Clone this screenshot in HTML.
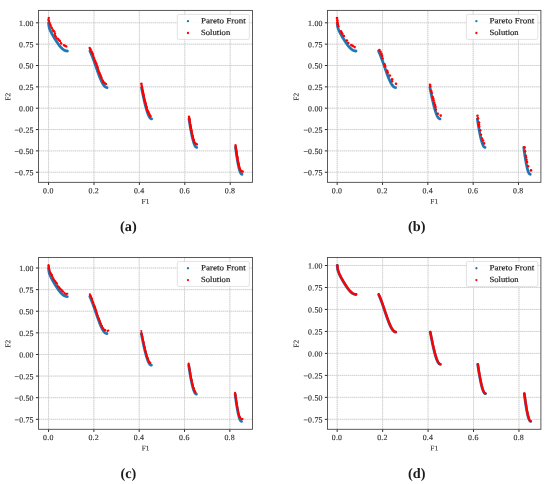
<!DOCTYPE html>
<html lang="en"><head><meta charset="utf-8"><title>Pareto Front vs Solution</title>
<style>
html,body{margin:0;padding:0;background:#fff;}
body{width:550px;height:484px;overflow:hidden;font-family:"Liberation Serif",serif;}
svg{display:block;}
</style></head><body>
<svg width="550" height="484" viewBox="0 0 550 484">
<rect width="550" height="484" fill="#fff"/>
<g id="plot-a">
<path d="M48.55 11V182.35M93.97 11V182.35M139.39 11V182.35M184.81 11V182.35M230.23 11V182.35M39 22.80H252.45M39 44.15H252.45M39 65.50H252.45M39 86.85H252.45M39 108.20H252.45M39 129.55H252.45M39 150.90H252.45M39 172.25H252.45" stroke="#e2e2e2" stroke-width="0.9" fill="none"/>
<path d="M48.55 11V182.35M93.97 11V182.35M139.39 11V182.35M184.81 11V182.35M230.23 11V182.35M39 22.80H252.45M39 44.15H252.45M39 65.50H252.45M39 86.85H252.45M39 108.20H252.45M39 129.55H252.45M39 150.90H252.45M39 172.25H252.45" stroke="#c4c4c4" stroke-width="0.55" stroke-dasharray="1 1" fill="none"/>
<polyline points="48.55,22.80 49.03,26.75 49.52,28.42 50.00,29.73 50.48,30.87 50.97,31.91 51.45,32.88 51.93,33.80 52.42,34.68 52.90,35.55 53.38,36.39 53.87,37.21 54.35,38.02 54.83,38.81 55.32,39.59 55.80,40.36 56.28,41.11 56.77,41.85 57.25,42.57 57.73,43.27 58.22,43.96 58.70,44.62 59.18,45.26 59.67,45.87 60.15,46.46 60.63,47.02 61.12,47.55 61.60,48.04 62.08,48.51 62.57,48.93 63.05,49.32 63.53,49.68 64.02,49.99 64.50,50.26 64.98,50.49 65.47,50.68 65.95,50.82 66.43,50.93 66.92,50.99 67.40,51.01" fill="none" stroke="#1f77b4" stroke-width="2.8" stroke-linecap="round" stroke-linejoin="round"/>
<polyline points="89.93,51.01 90.37,51.94 90.81,52.92 91.25,53.94 91.69,55.00 92.13,56.09 92.57,57.22 93.01,58.38 93.45,59.57 93.89,60.78 94.33,62.01 94.77,63.25 95.21,64.51 95.65,65.78 96.09,67.05 96.53,68.32 96.97,69.58 97.41,70.83 97.85,72.07 98.29,73.29 98.73,74.49 99.17,75.66 99.61,76.80 100.05,77.90 100.49,78.97 100.93,79.98 101.37,80.95 101.81,81.86 102.25,82.72 102.69,83.52 103.13,84.25 103.57,84.92 104.01,85.51 104.45,86.04 104.89,86.48 105.33,86.85 105.77,87.14 106.21,87.35 106.65,87.48 107.09,87.52" fill="none" stroke="#1f77b4" stroke-width="2.8" stroke-linecap="round" stroke-linejoin="round"/>
<polyline points="141.51,87.52 141.76,88.82 142.02,90.12 142.28,91.40 142.54,92.67 142.80,93.94 143.06,95.18 143.32,96.41 143.58,97.62 143.84,98.81 144.10,99.99 144.36,101.13 144.62,102.26 144.88,103.36 145.14,104.43 145.40,105.47 145.66,106.48 145.92,107.47 146.18,108.41 146.44,109.33 146.70,110.21 146.96,111.05 147.21,111.86 147.47,112.62 147.73,113.35 147.99,114.03 148.25,114.67 148.51,115.27 148.77,115.83 149.03,116.33 149.29,116.80 149.55,117.22 149.81,117.59 150.07,117.91 150.33,118.18 150.59,118.41 150.85,118.58 151.11,118.71 151.37,118.78 151.63,118.81" fill="none" stroke="#1f77b4" stroke-width="2.8" stroke-linecap="round" stroke-linejoin="round"/>
<polyline points="188.99,118.81 189.19,120.10 189.39,121.38 189.58,122.63 189.78,123.87 189.98,125.08 190.18,126.26 190.38,127.43 190.58,128.57 190.78,129.68 190.97,130.76 191.17,131.82 191.37,132.85 191.57,133.85 191.77,134.82 191.97,135.76 192.17,136.67 192.37,137.54 192.56,138.38 192.76,139.19 192.96,139.96 193.16,140.69 193.36,141.40 193.56,142.06 193.76,142.69 193.95,143.28 194.15,143.83 194.35,144.34 194.55,144.81 194.75,145.25 194.95,145.64 195.15,145.99 195.34,146.31 195.54,146.58 195.74,146.81 195.94,147.00 196.14,147.15 196.34,147.25 196.54,147.31 196.74,147.34" fill="none" stroke="#1f77b4" stroke-width="2.8" stroke-linecap="round" stroke-linejoin="round"/>
<polyline points="235.53,147.34 235.69,148.60 235.86,149.84 236.03,151.06 236.19,152.25 236.36,153.42 236.52,154.56 236.69,155.67 236.86,156.76 237.02,157.82 237.19,158.85 237.35,159.85 237.52,160.82 237.69,161.76 237.85,162.67 238.02,163.55 238.18,164.40 238.35,165.22 238.52,166.00 238.68,166.75 238.85,167.47 239.01,168.15 239.18,168.80 239.35,169.41 239.51,169.99 239.68,170.53 239.84,171.04 240.01,171.51 240.18,171.94 240.34,172.34 240.51,172.70 240.67,173.02 240.84,173.31 241.01,173.56 241.17,173.77 241.34,173.94 241.50,174.07 241.67,174.17 241.84,174.23 242.00,174.25" fill="none" stroke="#1f77b4" stroke-width="2.8" stroke-linecap="round" stroke-linejoin="round"/>
<g fill="#ff0000"><circle cx="48.82" cy="17.85" r="1.15"/><circle cx="48.54" cy="19.27" r="1.15"/><circle cx="48.46" cy="20.41" r="1.15"/><circle cx="49.03" cy="21.19" r="1.15"/><circle cx="49.64" cy="22.88" r="1.15"/><circle cx="49.70" cy="23.87" r="1.15"/><circle cx="50.37" cy="25.01" r="1.15"/><circle cx="50.72" cy="25.87" r="1.15"/><circle cx="51.43" cy="27.33" r="1.15"/><circle cx="51.89" cy="28.09" r="1.15"/><circle cx="52.76" cy="29.55" r="1.15"/><circle cx="53.13" cy="30.89" r="1.15"/><circle cx="54.01" cy="31.05" r="1.15"/><circle cx="54.47" cy="31.94" r="1.15"/><circle cx="55.09" cy="33.55" r="1.15"/><circle cx="55.00" cy="35.07" r="1.15"/><circle cx="55.37" cy="36.05" r="1.15"/><circle cx="55.93" cy="36.83" r="1.15"/><circle cx="56.82" cy="38.31" r="1.15"/><circle cx="58.17" cy="38.94" r="1.15"/><circle cx="58.71" cy="39.96" r="1.15"/><circle cx="59.51" cy="40.69" r="1.15"/><circle cx="60.01" cy="41.19" r="1.15"/><circle cx="60.95" cy="43.17" r="1.15"/><circle cx="61.31" cy="43.71" r="1.15"/><circle cx="63.83" cy="45.08" r="1.15"/><circle cx="64.53" cy="45.66" r="1.15"/><circle cx="65.61" cy="46.02" r="1.15"/><circle cx="66.48" cy="46.61" r="1.15"/><circle cx="89.59" cy="47.98" r="1.15"/><circle cx="90.16" cy="48.74" r="1.15"/><circle cx="90.35" cy="49.55" r="1.15"/><circle cx="90.53" cy="49.33" r="1.15"/><circle cx="91.13" cy="51.14" r="1.15"/><circle cx="91.71" cy="51.73" r="1.15"/><circle cx="91.81" cy="52.64" r="1.15"/><circle cx="92.10" cy="53.08" r="1.15"/><circle cx="92.40" cy="53.44" r="1.15"/><circle cx="92.75" cy="53.91" r="1.15"/><circle cx="93.16" cy="55.08" r="1.15"/><circle cx="93.39" cy="56.32" r="1.15"/><circle cx="94.00" cy="57.78" r="1.15"/><circle cx="94.12" cy="58.24" r="1.15"/><circle cx="94.47" cy="59.54" r="1.15"/><circle cx="94.92" cy="60.93" r="1.15"/><circle cx="95.23" cy="60.93" r="1.15"/><circle cx="95.36" cy="61.93" r="1.15"/><circle cx="95.72" cy="62.85" r="1.15"/><circle cx="96.06" cy="63.08" r="1.15"/><circle cx="96.27" cy="63.70" r="1.15"/><circle cx="96.41" cy="64.09" r="1.15"/><circle cx="96.97" cy="65.33" r="1.15"/><circle cx="97.30" cy="66.54" r="1.15"/><circle cx="97.56" cy="67.50" r="1.15"/><circle cx="97.73" cy="67.90" r="1.15"/><circle cx="98.12" cy="69.46" r="1.15"/><circle cx="98.39" cy="70.62" r="1.15"/><circle cx="98.75" cy="71.51" r="1.15"/><circle cx="99.25" cy="72.74" r="1.15"/><circle cx="99.62" cy="73.23" r="1.15"/><circle cx="99.86" cy="74.14" r="1.15"/><circle cx="100.19" cy="75.08" r="1.15"/><circle cx="100.57" cy="75.30" r="1.15"/><circle cx="100.85" cy="76.46" r="1.15"/><circle cx="101.22" cy="77.62" r="1.15"/><circle cx="101.53" cy="77.69" r="1.15"/><circle cx="102.03" cy="79.32" r="1.15"/><circle cx="102.83" cy="80.66" r="1.15"/><circle cx="103.08" cy="81.43" r="1.15"/><circle cx="103.38" cy="82.07" r="1.15"/><circle cx="103.89" cy="82.74" r="1.15"/><circle cx="104.40" cy="82.99" r="1.15"/><circle cx="105.36" cy="83.56" r="1.15"/><circle cx="106.06" cy="84.03" r="1.15"/><circle cx="141.38" cy="84.11" r="1.15"/><circle cx="141.43" cy="83.74" r="1.15"/><circle cx="141.64" cy="85.45" r="1.15"/><circle cx="141.81" cy="86.46" r="1.15"/><circle cx="141.96" cy="87.16" r="1.15"/><circle cx="142.11" cy="87.78" r="1.15"/><circle cx="142.12" cy="88.00" r="1.15"/><circle cx="142.35" cy="89.17" r="1.15"/><circle cx="142.50" cy="90.28" r="1.15"/><circle cx="142.63" cy="90.83" r="1.15"/><circle cx="142.68" cy="91.27" r="1.15"/><circle cx="142.88" cy="91.96" r="1.15"/><circle cx="143.06" cy="92.53" r="1.15"/><circle cx="143.08" cy="92.83" r="1.15"/><circle cx="143.30" cy="93.59" r="1.15"/><circle cx="143.47" cy="94.62" r="1.15"/><circle cx="143.52" cy="94.88" r="1.15"/><circle cx="143.73" cy="95.76" r="1.15"/><circle cx="143.79" cy="96.14" r="1.15"/><circle cx="143.95" cy="96.80" r="1.15"/><circle cx="144.09" cy="97.67" r="1.15"/><circle cx="144.29" cy="98.33" r="1.15"/><circle cx="144.43" cy="99.44" r="1.15"/><circle cx="144.64" cy="100.34" r="1.15"/><circle cx="144.69" cy="100.75" r="1.15"/><circle cx="144.89" cy="101.25" r="1.15"/><circle cx="145.11" cy="101.85" r="1.15"/><circle cx="145.25" cy="102.65" r="1.15"/><circle cx="145.31" cy="102.68" r="1.15"/><circle cx="145.59" cy="103.47" r="1.15"/><circle cx="145.69" cy="104.05" r="1.15"/><circle cx="145.91" cy="105.01" r="1.15"/><circle cx="146.08" cy="105.36" r="1.15"/><circle cx="146.32" cy="106.56" r="1.15"/><circle cx="146.44" cy="106.97" r="1.15"/><circle cx="146.50" cy="107.04" r="1.15"/><circle cx="146.73" cy="107.92" r="1.15"/><circle cx="147.07" cy="109.47" r="1.15"/><circle cx="147.21" cy="109.94" r="1.15"/><circle cx="147.53" cy="110.62" r="1.15"/><circle cx="147.69" cy="111.10" r="1.15"/><circle cx="147.85" cy="111.85" r="1.15"/><circle cx="148.25" cy="111.96" r="1.15"/><circle cx="148.35" cy="112.43" r="1.15"/><circle cx="148.50" cy="112.57" r="1.15"/><circle cx="149.11" cy="114.19" r="1.15"/><circle cx="149.23" cy="113.85" r="1.15"/><circle cx="149.79" cy="115.25" r="1.15"/><circle cx="150.27" cy="115.82" r="1.15"/><circle cx="150.61" cy="116.50" r="1.15"/><circle cx="188.99" cy="116.61" r="1.15"/><circle cx="189.11" cy="117.28" r="1.15"/><circle cx="189.21" cy="117.79" r="1.15"/><circle cx="189.35" cy="118.95" r="1.15"/><circle cx="189.41" cy="119.00" r="1.15"/><circle cx="189.50" cy="119.85" r="1.15"/><circle cx="189.65" cy="120.52" r="1.15"/><circle cx="189.79" cy="121.39" r="1.15"/><circle cx="189.93" cy="122.49" r="1.15"/><circle cx="190.03" cy="122.86" r="1.15"/><circle cx="190.04" cy="122.85" r="1.15"/><circle cx="190.25" cy="124.42" r="1.15"/><circle cx="190.41" cy="125.47" r="1.15"/><circle cx="190.48" cy="125.62" r="1.15"/><circle cx="190.57" cy="126.58" r="1.15"/><circle cx="190.73" cy="127.43" r="1.15"/><circle cx="190.83" cy="127.73" r="1.15"/><circle cx="191.01" cy="128.66" r="1.15"/><circle cx="191.11" cy="128.76" r="1.15"/><circle cx="191.31" cy="129.96" r="1.15"/><circle cx="191.40" cy="130.68" r="1.15"/><circle cx="191.48" cy="131.10" r="1.15"/><circle cx="191.69" cy="131.72" r="1.15"/><circle cx="191.85" cy="133.13" r="1.15"/><circle cx="191.92" cy="133.52" r="1.15"/><circle cx="192.08" cy="134.08" r="1.15"/><circle cx="192.14" cy="134.26" r="1.15"/><circle cx="192.47" cy="135.60" r="1.15"/><circle cx="192.55" cy="136.07" r="1.15"/><circle cx="192.63" cy="136.40" r="1.15"/><circle cx="192.83" cy="136.84" r="1.15"/><circle cx="193.10" cy="138.02" r="1.15"/><circle cx="193.36" cy="139.30" r="1.15"/><circle cx="193.51" cy="139.42" r="1.15"/><circle cx="193.76" cy="140.40" r="1.15"/><circle cx="193.87" cy="140.90" r="1.15"/><circle cx="194.08" cy="141.55" r="1.15"/><circle cx="194.55" cy="142.55" r="1.15"/><circle cx="194.93" cy="143.13" r="1.15"/><circle cx="195.44" cy="143.60" r="1.15"/><circle cx="196.32" cy="144.00" r="1.15"/><circle cx="196.96" cy="144.44" r="1.15"/><circle cx="235.53" cy="145.23" r="1.15"/><circle cx="235.61" cy="146.03" r="1.15"/><circle cx="235.76" cy="147.12" r="1.15"/><circle cx="235.76" cy="147.22" r="1.15"/><circle cx="235.84" cy="148.05" r="1.15"/><circle cx="235.95" cy="148.56" r="1.15"/><circle cx="236.03" cy="148.84" r="1.15"/><circle cx="236.14" cy="149.59" r="1.15"/><circle cx="236.26" cy="150.41" r="1.15"/><circle cx="236.37" cy="151.29" r="1.15"/><circle cx="236.49" cy="152.22" r="1.15"/><circle cx="236.51" cy="152.26" r="1.15"/><circle cx="236.72" cy="154.06" r="1.15"/><circle cx="236.80" cy="154.50" r="1.15"/><circle cx="236.83" cy="154.85" r="1.15"/><circle cx="236.86" cy="154.66" r="1.15"/><circle cx="237.04" cy="155.85" r="1.15"/><circle cx="237.15" cy="156.39" r="1.15"/><circle cx="237.17" cy="156.35" r="1.15"/><circle cx="237.37" cy="157.51" r="1.15"/><circle cx="237.47" cy="158.26" r="1.15"/><circle cx="237.56" cy="158.69" r="1.15"/><circle cx="237.73" cy="160.08" r="1.15"/><circle cx="237.87" cy="160.65" r="1.15"/><circle cx="237.93" cy="161.06" r="1.15"/><circle cx="238.09" cy="162.19" r="1.15"/><circle cx="238.18" cy="162.25" r="1.15"/><circle cx="238.31" cy="163.15" r="1.15"/><circle cx="238.48" cy="163.73" r="1.15"/><circle cx="238.65" cy="164.54" r="1.15"/><circle cx="238.74" cy="164.70" r="1.15"/><circle cx="238.81" cy="164.91" r="1.15"/><circle cx="239.12" cy="166.41" r="1.15"/><circle cx="239.16" cy="166.68" r="1.15"/><circle cx="239.44" cy="167.58" r="1.15"/><circle cx="239.75" cy="168.57" r="1.15"/><circle cx="239.83" cy="169.02" r="1.15"/><circle cx="239.96" cy="169.48" r="1.15"/><circle cx="240.37" cy="169.88" r="1.15"/><circle cx="241.25" cy="171.38" r="1.15"/><circle cx="241.90" cy="171.26" r="1.15"/><circle cx="242.85" cy="171.64" r="1.15"/></g>
<path d="M48.55 182.35v2.6M93.97 182.35v2.6M139.39 182.35v2.6M184.81 182.35v2.6M230.23 182.35v2.6M38.50 22.80h-2.6M38.50 44.15h-2.6M38.50 65.50h-2.6M38.50 86.85h-2.6M38.50 108.20h-2.6M38.50 129.55h-2.6M38.50 150.90h-2.6M38.50 172.25h-2.6" stroke="#2a2a2a" stroke-width="1" fill="none"/>
<rect x="38.50" y="10.40" width="213.95" height="171.95" fill="none" stroke="#484848" stroke-width="0.9"/>
<g font-family="Liberation Serif, serif" font-size="7.9" fill="#333" stroke="#333" stroke-width="0.16" letter-spacing="0.2">
<text transform="translate(48.35 193.15) rotate(0.05)" text-anchor="middle">0.0</text>
<text transform="translate(93.77 193.15) rotate(0.05)" text-anchor="middle">0.2</text>
<text transform="translate(139.19 193.15) rotate(0.05)" text-anchor="middle">0.4</text>
<text transform="translate(184.61 193.15) rotate(0.05)" text-anchor="middle">0.6</text>
<text transform="translate(230.03 193.15) rotate(0.05)" text-anchor="middle">0.8</text>
<text transform="translate(33.70 25.90) rotate(0.05)" text-anchor="end">1.00</text>
<text transform="translate(33.70 47.25) rotate(0.05)" text-anchor="end">0.75</text>
<text transform="translate(33.70 68.60) rotate(0.05)" text-anchor="end">0.50</text>
<text transform="translate(33.70 89.95) rotate(0.05)" text-anchor="end">0.25</text>
<text transform="translate(33.70 111.30) rotate(0.05)" text-anchor="end">0.00</text>
<text transform="translate(33.70 132.65) rotate(0.05)" text-anchor="end">−0.25</text>
<text transform="translate(33.70 154.00) rotate(0.05)" text-anchor="end">−0.50</text>
<text transform="translate(33.70 175.35) rotate(0.05)" text-anchor="end">−0.75</text>
</g>
<g font-family="Liberation Serif, serif" font-size="7.3" fill="#2a2a2a" stroke="#2a2a2a" stroke-width="0.12">
<text transform="translate(145.47 203.65) rotate(0.05)" text-anchor="middle">F1</text>
<text transform="translate(10.30 96.67) rotate(-89.95)" text-anchor="middle">F2</text>
</g>
<rect x="177.35" y="14.40" width="72.0" height="25.0" rx="1.4" fill="#fff" fill-opacity="0.88" stroke="#ccc" stroke-opacity="0.8" stroke-width="0.7"/>
<circle cx="187.95" cy="21.20" r="1.15" fill="#1f77b4"/>
<circle cx="187.95" cy="33.00" r="1.15" fill="#ff0000"/>
<g font-family="Liberation Serif, serif" font-size="8" fill="#222" stroke="#222" stroke-width="0.18">
<text transform="translate(201.05 23.20) rotate(0.05) scale(1.125 1)" text-anchor="start">Pareto Front</text>
<text transform="translate(201.05 35.00) rotate(0.05) scale(1.075 1)" text-anchor="start">Solution</text>
</g>
<text transform="translate(128.40 231.00) rotate(0.05)" text-anchor="middle" font-family="Liberation Serif, serif" font-weight="bold" font-size="14.3" fill="#1c1c1c">(a)</text>
</g>
<g id="plot-b">
<path d="M337.20 11V182.35M382.52 11V182.35M427.84 11V182.35M473.16 11V182.35M518.48 11V182.35M328 22.80H540.90M328 44.15H540.90M328 65.50H540.90M328 86.85H540.90M328 108.20H540.90M328 129.55H540.90M328 150.90H540.90M328 172.25H540.90" stroke="#e2e2e2" stroke-width="0.9" fill="none"/>
<path d="M337.20 11V182.35M382.52 11V182.35M427.84 11V182.35M473.16 11V182.35M518.48 11V182.35M328 22.80H540.90M328 44.15H540.90M328 65.50H540.90M328 86.85H540.90M328 108.20H540.90M328 129.55H540.90M328 150.90H540.90M328 172.25H540.90" stroke="#c4c4c4" stroke-width="0.55" stroke-dasharray="1 1" fill="none"/>
<polyline points="337.20,22.80 337.68,26.75 338.16,28.42 338.65,29.73 339.13,30.87 339.61,31.91 340.09,32.88 340.58,33.80 341.06,34.68 341.54,35.55 342.02,36.39 342.50,37.21 342.99,38.02 343.47,38.81 343.95,39.59 344.43,40.36 344.92,41.11 345.40,41.85 345.88,42.57 346.36,43.27 346.85,43.96 347.33,44.62 347.81,45.26 348.29,45.87 348.77,46.46 349.26,47.02 349.74,47.55 350.22,48.04 350.70,48.51 351.19,48.93 351.67,49.32 352.15,49.68 352.63,49.99 353.11,50.26 353.60,50.49 354.08,50.68 354.56,50.82 355.04,50.93 355.53,50.99 356.01,51.01" fill="none" stroke="#1f77b4" stroke-width="2.8" stroke-linecap="round" stroke-linejoin="round"/>
<polyline points="378.49,51.01 378.93,51.94 379.37,52.92 379.81,53.94 380.25,55.00 380.69,56.09 381.13,57.22 381.57,58.38 382.00,59.57 382.44,60.78 382.88,62.01 383.32,63.25 383.76,64.51 384.20,65.78 384.64,67.05 385.08,68.32 385.51,69.58 385.95,70.83 386.39,72.07 386.83,73.29 387.27,74.49 387.71,75.66 388.15,76.80 388.59,77.90 389.03,78.97 389.46,79.98 389.90,80.95 390.34,81.86 390.78,82.72 391.22,83.52 391.66,84.25 392.10,84.92 392.54,85.51 392.98,86.04 393.41,86.48 393.85,86.85 394.29,87.14 394.73,87.35 395.17,87.48 395.61,87.52" fill="none" stroke="#1f77b4" stroke-width="2.8" stroke-linecap="round" stroke-linejoin="round"/>
<polyline points="429.95,87.52 430.21,88.82 430.47,90.12 430.73,91.40 430.99,92.67 431.25,93.94 431.50,95.18 431.76,96.41 432.02,97.62 432.28,98.81 432.54,99.99 432.80,101.13 433.06,102.26 433.32,103.36 433.58,104.43 433.83,105.47 434.09,106.48 434.35,107.47 434.61,108.41 434.87,109.33 435.13,110.21 435.39,111.05 435.65,111.86 435.91,112.62 436.17,113.35 436.42,114.03 436.68,114.67 436.94,115.27 437.20,115.83 437.46,116.33 437.72,116.80 437.98,117.22 438.24,117.59 438.50,117.91 438.75,118.18 439.01,118.41 439.27,118.58 439.53,118.71 439.79,118.78 440.05,118.81" fill="none" stroke="#1f77b4" stroke-width="2.8" stroke-linecap="round" stroke-linejoin="round"/>
<polyline points="477.33,118.81 477.53,120.10 477.73,121.38 477.92,122.63 478.12,123.87 478.32,125.08 478.52,126.26 478.72,127.43 478.91,128.57 479.11,129.68 479.31,130.76 479.51,131.82 479.71,132.85 479.91,133.85 480.10,134.82 480.30,135.76 480.50,136.67 480.70,137.54 480.90,138.38 481.09,139.19 481.29,139.96 481.49,140.69 481.69,141.40 481.89,142.06 482.09,142.69 482.28,143.28 482.48,143.83 482.68,144.34 482.88,144.81 483.08,145.25 483.28,145.64 483.47,145.99 483.67,146.31 483.87,146.58 484.07,146.81 484.27,147.00 484.46,147.15 484.66,147.25 484.86,147.31 485.06,147.34" fill="none" stroke="#1f77b4" stroke-width="2.8" stroke-linecap="round" stroke-linejoin="round"/>
<polyline points="523.77,147.34 523.93,148.60 524.10,149.84 524.26,151.06 524.43,152.25 524.59,153.42 524.76,154.56 524.93,155.67 525.09,156.76 525.26,157.82 525.42,158.85 525.59,159.85 525.75,160.82 525.92,161.76 526.09,162.67 526.25,163.55 526.42,164.40 526.58,165.22 526.75,166.00 526.91,166.75 527.08,167.47 527.24,168.15 527.41,168.80 527.58,169.41 527.74,169.99 527.91,170.53 528.07,171.04 528.24,171.51 528.40,171.94 528.57,172.34 528.73,172.70 528.90,173.02 529.07,173.31 529.23,173.56 529.40,173.77 529.56,173.94 529.73,174.07 529.89,174.17 530.06,174.23 530.23,174.25" fill="none" stroke="#1f77b4" stroke-width="2.8" stroke-linecap="round" stroke-linejoin="round"/>
<g fill="#ff0000"><circle cx="337.00" cy="17.95" r="1.3"/><circle cx="337.30" cy="20.30" r="1.3"/><circle cx="337.40" cy="22.30" r="1.3"/><circle cx="337.85" cy="24.40" r="1.3"/><circle cx="338.30" cy="26.20" r="1.3"/><circle cx="340.90" cy="31.20" r="1.3"/><circle cx="341.70" cy="32.70" r="1.3"/><circle cx="342.40" cy="34.10" r="1.3"/><circle cx="343.90" cy="36.00" r="1.3"/><circle cx="346.90" cy="40.50" r="1.3"/><circle cx="348.20" cy="43.00" r="1.3"/><circle cx="351.30" cy="45.00" r="1.3"/><circle cx="352.70" cy="45.90" r="1.3"/><circle cx="354.60" cy="47.10" r="1.3"/><circle cx="379.40" cy="50.10" r="1.3"/><circle cx="380.50" cy="51.80" r="1.3"/><circle cx="381.50" cy="53.90" r="1.3"/><circle cx="382.10" cy="55.90" r="1.3"/><circle cx="382.60" cy="58.50" r="1.3"/><circle cx="384.60" cy="64.20" r="1.3"/><circle cx="385.10" cy="66.30" r="1.3"/><circle cx="387.30" cy="70.90" r="1.3"/><circle cx="387.70" cy="72.80" r="1.3"/><circle cx="389.80" cy="75.60" r="1.3"/><circle cx="392.10" cy="79.20" r="1.3"/><circle cx="392.10" cy="81.30" r="1.3"/><circle cx="396.00" cy="83.80" r="1.3"/><circle cx="430.00" cy="84.80" r="1.3"/><circle cx="430.30" cy="86.40" r="1.3"/><circle cx="431.20" cy="91.00" r="1.3"/><circle cx="431.70" cy="93.10" r="1.3"/><circle cx="432.60" cy="96.70" r="1.3"/><circle cx="433.10" cy="98.20" r="1.3"/><circle cx="433.60" cy="100.30" r="1.3"/><circle cx="434.30" cy="102.90" r="1.3"/><circle cx="435.00" cy="105.00" r="1.3"/><circle cx="435.50" cy="107.00" r="1.3"/><circle cx="435.80" cy="109.60" r="1.3"/><circle cx="437.80" cy="113.70" r="1.3"/><circle cx="440.70" cy="115.60" r="1.3"/><circle cx="477.50" cy="115.80" r="1.3"/><circle cx="478.00" cy="118.40" r="1.3"/><circle cx="479.05" cy="122.60" r="1.3"/><circle cx="478.85" cy="124.60" r="1.3"/><circle cx="479.20" cy="126.50" r="1.3"/><circle cx="480.20" cy="130.30" r="1.3"/><circle cx="480.90" cy="134.75" r="1.3"/><circle cx="481.95" cy="138.60" r="1.3"/><circle cx="483.00" cy="140.60" r="1.3"/><circle cx="484.00" cy="143.40" r="1.3"/><circle cx="524.50" cy="147.40" r="1.3"/><circle cx="525.00" cy="151.20" r="1.3"/><circle cx="525.80" cy="155.70" r="1.3"/><circle cx="526.00" cy="157.20" r="1.3"/><circle cx="526.50" cy="159.80" r="1.3"/><circle cx="527.00" cy="162.10" r="1.3"/><circle cx="528.10" cy="166.20" r="1.3"/><circle cx="531.00" cy="170.40" r="1.3"/></g>
<path d="M337.20 182.35v2.6M382.52 182.35v2.6M427.84 182.35v2.6M473.16 182.35v2.6M518.48 182.35v2.6M327.50 22.80h-2.6M327.50 44.15h-2.6M327.50 65.50h-2.6M327.50 86.85h-2.6M327.50 108.20h-2.6M327.50 129.55h-2.6M327.50 150.90h-2.6M327.50 172.25h-2.6" stroke="#2a2a2a" stroke-width="1" fill="none"/>
<rect x="327.50" y="10.40" width="213.40" height="171.95" fill="none" stroke="#484848" stroke-width="0.9"/>
<g font-family="Liberation Serif, serif" font-size="7.9" fill="#333" stroke="#333" stroke-width="0.16" letter-spacing="0.2">
<text transform="translate(337.00 193.15) rotate(0.05)" text-anchor="middle">0.0</text>
<text transform="translate(382.32 193.15) rotate(0.05)" text-anchor="middle">0.2</text>
<text transform="translate(427.64 193.15) rotate(0.05)" text-anchor="middle">0.4</text>
<text transform="translate(472.96 193.15) rotate(0.05)" text-anchor="middle">0.6</text>
<text transform="translate(518.28 193.15) rotate(0.05)" text-anchor="middle">0.8</text>
<text transform="translate(322.70 25.90) rotate(0.05)" text-anchor="end">1.00</text>
<text transform="translate(322.70 47.25) rotate(0.05)" text-anchor="end">0.75</text>
<text transform="translate(322.70 68.60) rotate(0.05)" text-anchor="end">0.50</text>
<text transform="translate(322.70 89.95) rotate(0.05)" text-anchor="end">0.25</text>
<text transform="translate(322.70 111.30) rotate(0.05)" text-anchor="end">0.00</text>
<text transform="translate(322.70 132.65) rotate(0.05)" text-anchor="end">−0.25</text>
<text transform="translate(322.70 154.00) rotate(0.05)" text-anchor="end">−0.50</text>
<text transform="translate(322.70 175.35) rotate(0.05)" text-anchor="end">−0.75</text>
</g>
<g font-family="Liberation Serif, serif" font-size="7.3" fill="#2a2a2a" stroke="#2a2a2a" stroke-width="0.12">
<text transform="translate(434.20 203.65) rotate(0.05)" text-anchor="middle">F1</text>
<text transform="translate(298.50 96.67) rotate(-89.95)" text-anchor="middle">F2</text>
</g>
<rect x="466.40" y="14.40" width="71.4" height="25.0" rx="1.4" fill="#fff" fill-opacity="0.88" stroke="#ccc" stroke-opacity="0.8" stroke-width="0.7"/>
<circle cx="476.40" cy="21.20" r="1.15" fill="#1f77b4"/>
<circle cx="476.40" cy="33.00" r="1.15" fill="#ff0000"/>
<g font-family="Liberation Serif, serif" font-size="8" fill="#222" stroke="#222" stroke-width="0.18">
<text transform="translate(489.50 23.20) rotate(0.05) scale(1.125 1)" text-anchor="start">Pareto Front</text>
<text transform="translate(489.50 35.00) rotate(0.05) scale(1.075 1)" text-anchor="start">Solution</text>
</g>
<text transform="translate(416.80 231.00) rotate(0.05)" text-anchor="middle" font-family="Liberation Serif, serif" font-weight="bold" font-size="14.3" fill="#1c1c1c">(b)</text>
</g>
<g id="plot-c">
<path d="M48.55 258V429.30M93.87 258V429.30M139.19 258V429.30M184.51 258V429.30M229.83 258V429.30M39 268.00H252.45M39 289.62H252.45M39 311.23H252.45M39 332.85H252.45M39 354.46H252.45M39 376.07H252.45M39 397.69H252.45M39 419.30H252.45" stroke="#e2e2e2" stroke-width="0.9" fill="none"/>
<path d="M48.55 258V429.30M93.87 258V429.30M139.19 258V429.30M184.51 258V429.30M229.83 258V429.30M39 268.00H252.45M39 289.62H252.45M39 311.23H252.45M39 332.85H252.45M39 354.46H252.45M39 376.07H252.45M39 397.69H252.45M39 419.30H252.45" stroke="#c4c4c4" stroke-width="0.55" stroke-dasharray="1 1" fill="none"/>
<polyline points="48.55,268.00 49.03,272.00 49.51,273.69 50.00,275.02 50.48,276.17 50.96,277.22 51.44,278.20 51.93,279.13 52.41,280.03 52.89,280.90 53.37,281.75 53.85,282.59 54.34,283.40 54.82,284.21 55.30,285.00 55.78,285.77 56.27,286.54 56.75,287.28 57.23,288.01 57.71,288.73 58.20,289.42 58.68,290.09 59.16,290.74 59.64,291.36 60.12,291.95 60.61,292.52 61.09,293.06 61.57,293.56 62.05,294.03 62.54,294.46 63.02,294.85 63.50,295.21 63.98,295.52 64.46,295.80 64.95,296.03 65.43,296.22 65.91,296.37 66.39,296.48 66.88,296.54 67.36,296.56" fill="none" stroke="#1f77b4" stroke-width="2.8" stroke-linecap="round" stroke-linejoin="round"/>
<polyline points="89.84,296.56 90.28,297.51 90.72,298.49 91.16,299.53 91.60,300.60 92.04,301.71 92.48,302.85 92.92,304.02 93.35,305.22 93.79,306.45 94.23,307.69 94.67,308.96 95.11,310.23 95.55,311.51 95.99,312.80 96.43,314.08 96.86,315.36 97.30,316.63 97.74,317.88 98.18,319.12 98.62,320.33 99.06,321.52 99.50,322.67 99.94,323.79 100.38,324.86 100.81,325.89 101.25,326.87 101.69,327.80 102.13,328.66 102.57,329.47 103.01,330.21 103.45,330.89 103.89,331.49 104.33,332.02 104.76,332.47 105.20,332.85 105.64,333.14 106.08,333.35 106.52,333.48 106.96,333.52" fill="none" stroke="#1f77b4" stroke-width="2.8" stroke-linecap="round" stroke-linejoin="round"/>
<polyline points="141.30,333.52 141.56,334.84 141.82,336.15 142.08,337.45 142.34,338.74 142.60,340.02 142.85,341.28 143.11,342.52 143.37,343.75 143.63,344.96 143.89,346.14 144.15,347.31 144.41,348.44 144.67,349.56 144.93,350.64 145.18,351.70 145.44,352.72 145.70,353.72 145.96,354.68 146.22,355.60 146.48,356.49 146.74,357.35 147.00,358.16 147.26,358.94 147.52,359.67 147.77,360.36 148.03,361.01 148.29,361.62 148.55,362.18 148.81,362.70 149.07,363.17 149.33,363.59 149.59,363.96 149.85,364.29 150.10,364.57 150.36,364.79 150.62,364.97 150.88,365.10 151.14,365.17 151.40,365.20" fill="none" stroke="#1f77b4" stroke-width="2.8" stroke-linecap="round" stroke-linejoin="round"/>
<polyline points="188.68,365.20 188.88,366.51 189.08,367.80 189.27,369.07 189.47,370.32 189.67,371.55 189.87,372.75 190.07,373.93 190.26,375.08 190.46,376.21 190.66,377.31 190.86,378.38 191.06,379.42 191.26,380.43 191.45,381.41 191.65,382.36 191.85,383.28 192.05,384.16 192.25,385.01 192.44,385.83 192.64,386.61 192.84,387.36 193.04,388.07 193.24,388.74 193.44,389.37 193.63,389.97 193.83,390.53 194.03,391.05 194.23,391.53 194.43,391.97 194.63,392.37 194.82,392.72 195.02,393.04 195.22,393.32 195.42,393.55 195.62,393.74 195.81,393.89 196.01,394.00 196.21,394.06 196.41,394.08" fill="none" stroke="#1f77b4" stroke-width="2.8" stroke-linecap="round" stroke-linejoin="round"/>
<polyline points="235.12,394.08 235.28,395.36 235.45,396.62 235.61,397.85 235.78,399.06 235.94,400.24 236.11,401.39 236.28,402.52 236.44,403.62 236.61,404.69 236.77,405.74 236.94,406.75 237.10,407.73 237.27,408.69 237.44,409.61 237.60,410.50 237.77,411.36 237.93,412.19 238.10,412.98 238.26,413.74 238.43,414.46 238.59,415.15 238.76,415.81 238.93,416.43 239.09,417.02 239.26,417.56 239.42,418.08 239.59,418.55 239.75,418.99 239.92,419.40 240.08,419.76 240.25,420.09 240.42,420.38 240.58,420.63 240.75,420.84 240.91,421.01 241.08,421.15 241.24,421.25 241.41,421.31 241.58,421.33" fill="none" stroke="#1f77b4" stroke-width="2.8" stroke-linecap="round" stroke-linejoin="round"/>
<g fill="#ff0000"><circle cx="48.55" cy="265.16" r="1.05"/><circle cx="48.58" cy="265.70" r="1.05"/><circle cx="48.60" cy="266.03" r="1.05"/><circle cx="48.73" cy="267.11" r="1.05"/><circle cx="48.83" cy="267.18" r="1.05"/><circle cx="49.02" cy="268.53" r="1.05"/><circle cx="49.19" cy="268.45" r="1.05"/><circle cx="49.57" cy="269.93" r="1.05"/><circle cx="49.74" cy="271.62" r="1.05"/><circle cx="50.10" cy="272.18" r="1.05"/><circle cx="50.41" cy="273.57" r="1.05"/><circle cx="50.59" cy="273.09" r="1.05"/><circle cx="51.10" cy="273.91" r="1.05"/><circle cx="51.44" cy="274.78" r="1.05"/><circle cx="51.80" cy="274.78" r="1.05"/><circle cx="52.09" cy="275.84" r="1.05"/><circle cx="52.48" cy="276.71" r="1.05"/><circle cx="53.04" cy="278.04" r="1.05"/><circle cx="53.62" cy="279.30" r="1.05"/><circle cx="53.64" cy="279.40" r="1.05"/><circle cx="54.23" cy="280.37" r="1.05"/><circle cx="54.52" cy="281.10" r="1.05"/><circle cx="55.10" cy="281.20" r="1.05"/><circle cx="55.48" cy="281.46" r="1.05"/><circle cx="55.87" cy="282.48" r="1.05"/><circle cx="56.00" cy="283.02" r="1.05"/><circle cx="56.63" cy="283.17" r="1.05"/><circle cx="57.02" cy="283.78" r="1.05"/><circle cx="57.61" cy="285.54" r="1.05"/><circle cx="57.98" cy="286.71" r="1.05"/><circle cx="58.46" cy="286.94" r="1.05"/><circle cx="59.16" cy="287.30" r="1.05"/><circle cx="59.56" cy="288.94" r="1.05"/><circle cx="59.88" cy="288.26" r="1.05"/><circle cx="60.53" cy="289.03" r="1.05"/><circle cx="61.19" cy="289.85" r="1.05"/><circle cx="61.70" cy="289.94" r="1.05"/><circle cx="62.22" cy="291.31" r="1.05"/><circle cx="62.62" cy="291.24" r="1.05"/><circle cx="63.35" cy="291.73" r="1.05"/><circle cx="64.43" cy="293.02" r="1.05"/><circle cx="65.26" cy="293.68" r="1.05"/><circle cx="65.78" cy="294.03" r="1.05"/><circle cx="66.32" cy="293.79" r="1.05"/><circle cx="67.36" cy="293.79" r="1.05"/><circle cx="89.84" cy="294.41" r="1.05"/><circle cx="90.04" cy="294.82" r="1.05"/><circle cx="90.42" cy="295.43" r="1.05"/><circle cx="90.84" cy="296.33" r="1.05"/><circle cx="91.06" cy="297.05" r="1.05"/><circle cx="91.70" cy="298.30" r="1.05"/><circle cx="91.75" cy="298.62" r="1.05"/><circle cx="92.05" cy="299.14" r="1.05"/><circle cx="92.47" cy="300.93" r="1.05"/><circle cx="92.87" cy="302.15" r="1.05"/><circle cx="93.15" cy="302.69" r="1.05"/><circle cx="93.26" cy="302.85" r="1.05"/><circle cx="93.61" cy="304.21" r="1.05"/><circle cx="93.88" cy="305.19" r="1.05"/><circle cx="94.20" cy="305.85" r="1.05"/><circle cx="94.45" cy="306.57" r="1.05"/><circle cx="94.61" cy="306.32" r="1.05"/><circle cx="94.85" cy="307.17" r="1.05"/><circle cx="95.26" cy="308.09" r="1.05"/><circle cx="95.41" cy="308.73" r="1.05"/><circle cx="95.91" cy="310.41" r="1.05"/><circle cx="96.06" cy="310.40" r="1.05"/><circle cx="96.23" cy="310.83" r="1.05"/><circle cx="96.57" cy="312.24" r="1.05"/><circle cx="96.82" cy="313.27" r="1.05"/><circle cx="97.13" cy="314.01" r="1.05"/><circle cx="97.51" cy="315.60" r="1.05"/><circle cx="97.56" cy="315.45" r="1.05"/><circle cx="97.79" cy="316.55" r="1.05"/><circle cx="98.29" cy="317.93" r="1.05"/><circle cx="98.52" cy="318.08" r="1.05"/><circle cx="98.84" cy="318.88" r="1.05"/><circle cx="99.17" cy="319.19" r="1.05"/><circle cx="99.40" cy="320.30" r="1.05"/><circle cx="99.81" cy="321.17" r="1.05"/><circle cx="99.94" cy="321.79" r="1.05"/><circle cx="100.36" cy="323.04" r="1.05"/><circle cx="100.58" cy="323.61" r="1.05"/><circle cx="100.88" cy="323.80" r="1.05"/><circle cx="101.43" cy="325.66" r="1.05"/><circle cx="101.79" cy="325.91" r="1.05"/><circle cx="101.84" cy="325.95" r="1.05"/><circle cx="102.34" cy="327.46" r="1.05"/><circle cx="102.96" cy="328.04" r="1.05"/><circle cx="103.54" cy="329.22" r="1.05"/><circle cx="103.74" cy="329.23" r="1.05"/><circle cx="104.58" cy="330.13" r="1.05"/><circle cx="105.32" cy="329.97" r="1.05"/><circle cx="107.50" cy="331.11" r="1.05"/><circle cx="108.25" cy="330.54" r="1.05"/><circle cx="141.30" cy="331.03" r="1.05"/><circle cx="141.45" cy="332.96" r="1.05"/><circle cx="141.64" cy="333.97" r="1.05"/><circle cx="141.77" cy="334.69" r="1.05"/><circle cx="141.92" cy="334.69" r="1.05"/><circle cx="142.12" cy="335.70" r="1.05"/><circle cx="142.28" cy="336.48" r="1.05"/><circle cx="142.32" cy="336.91" r="1.05"/><circle cx="142.58" cy="338.06" r="1.05"/><circle cx="142.75" cy="339.18" r="1.05"/><circle cx="142.83" cy="339.84" r="1.05"/><circle cx="143.06" cy="341.04" r="1.05"/><circle cx="143.13" cy="341.19" r="1.05"/><circle cx="143.45" cy="342.03" r="1.05"/><circle cx="143.52" cy="342.34" r="1.05"/><circle cx="143.70" cy="343.38" r="1.05"/><circle cx="143.95" cy="344.88" r="1.05"/><circle cx="144.04" cy="345.75" r="1.05"/><circle cx="144.26" cy="346.23" r="1.05"/><circle cx="144.34" cy="346.73" r="1.05"/><circle cx="144.55" cy="347.11" r="1.05"/><circle cx="144.68" cy="347.48" r="1.05"/><circle cx="144.94" cy="348.96" r="1.05"/><circle cx="145.21" cy="350.48" r="1.05"/><circle cx="145.36" cy="350.67" r="1.05"/><circle cx="145.60" cy="351.69" r="1.05"/><circle cx="145.67" cy="352.12" r="1.05"/><circle cx="145.89" cy="353.23" r="1.05"/><circle cx="146.13" cy="353.28" r="1.05"/><circle cx="146.43" cy="354.32" r="1.05"/><circle cx="146.65" cy="355.14" r="1.05"/><circle cx="146.85" cy="356.38" r="1.05"/><circle cx="147.16" cy="357.27" r="1.05"/><circle cx="147.35" cy="357.63" r="1.05"/><circle cx="147.63" cy="357.88" r="1.05"/><circle cx="148.06" cy="359.35" r="1.05"/><circle cx="148.17" cy="359.40" r="1.05"/><circle cx="148.59" cy="360.80" r="1.05"/><circle cx="149.15" cy="361.78" r="1.05"/><circle cx="149.36" cy="362.51" r="1.05"/><circle cx="149.94" cy="362.61" r="1.05"/><circle cx="150.39" cy="363.05" r="1.05"/><circle cx="188.68" cy="363.66" r="1.05"/><circle cx="188.73" cy="364.31" r="1.05"/><circle cx="188.95" cy="365.75" r="1.05"/><circle cx="189.04" cy="365.93" r="1.05"/><circle cx="189.13" cy="366.20" r="1.05"/><circle cx="189.31" cy="367.14" r="1.05"/><circle cx="189.38" cy="368.19" r="1.05"/><circle cx="189.55" cy="369.65" r="1.05"/><circle cx="189.59" cy="369.23" r="1.05"/><circle cx="189.70" cy="370.37" r="1.05"/><circle cx="189.91" cy="371.61" r="1.05"/><circle cx="190.08" cy="372.55" r="1.05"/><circle cx="190.14" cy="372.83" r="1.05"/><circle cx="190.28" cy="373.03" r="1.05"/><circle cx="190.35" cy="373.81" r="1.05"/><circle cx="190.44" cy="374.45" r="1.05"/><circle cx="190.63" cy="375.68" r="1.05"/><circle cx="190.83" cy="376.52" r="1.05"/><circle cx="190.85" cy="377.10" r="1.05"/><circle cx="191.03" cy="377.82" r="1.05"/><circle cx="191.11" cy="378.24" r="1.05"/><circle cx="191.36" cy="379.24" r="1.05"/><circle cx="191.55" cy="380.26" r="1.05"/><circle cx="191.59" cy="380.13" r="1.05"/><circle cx="191.80" cy="380.93" r="1.05"/><circle cx="192.06" cy="382.70" r="1.05"/><circle cx="192.15" cy="383.35" r="1.05"/><circle cx="192.26" cy="383.95" r="1.05"/><circle cx="192.43" cy="384.42" r="1.05"/><circle cx="192.57" cy="385.05" r="1.05"/><circle cx="192.95" cy="386.17" r="1.05"/><circle cx="193.05" cy="386.42" r="1.05"/><circle cx="193.41" cy="387.78" r="1.05"/><circle cx="193.63" cy="388.04" r="1.05"/><circle cx="193.75" cy="388.56" r="1.05"/><circle cx="194.03" cy="389.53" r="1.05"/><circle cx="194.47" cy="390.67" r="1.05"/><circle cx="194.74" cy="391.08" r="1.05"/><circle cx="195.17" cy="391.87" r="1.05"/><circle cx="195.64" cy="392.43" r="1.05"/><circle cx="235.12" cy="392.83" r="1.05"/><circle cx="235.16" cy="393.23" r="1.05"/><circle cx="235.30" cy="394.09" r="1.05"/><circle cx="235.36" cy="394.60" r="1.05"/><circle cx="235.47" cy="395.39" r="1.05"/><circle cx="235.60" cy="396.38" r="1.05"/><circle cx="235.68" cy="396.98" r="1.05"/><circle cx="235.81" cy="398.02" r="1.05"/><circle cx="235.89" cy="398.63" r="1.05"/><circle cx="235.96" cy="399.17" r="1.05"/><circle cx="236.07" cy="399.80" r="1.05"/><circle cx="236.16" cy="400.21" r="1.05"/><circle cx="236.31" cy="400.94" r="1.05"/><circle cx="236.39" cy="402.02" r="1.05"/><circle cx="236.49" cy="402.58" r="1.05"/><circle cx="236.64" cy="403.41" r="1.05"/><circle cx="236.73" cy="404.07" r="1.05"/><circle cx="236.82" cy="404.68" r="1.05"/><circle cx="236.89" cy="404.80" r="1.05"/><circle cx="237.09" cy="406.17" r="1.05"/><circle cx="237.20" cy="406.84" r="1.05"/><circle cx="237.32" cy="407.39" r="1.05"/><circle cx="237.42" cy="408.00" r="1.05"/><circle cx="237.54" cy="409.25" r="1.05"/><circle cx="237.70" cy="409.43" r="1.05"/><circle cx="237.86" cy="409.82" r="1.05"/><circle cx="237.98" cy="410.91" r="1.05"/><circle cx="238.13" cy="411.61" r="1.05"/><circle cx="238.27" cy="412.17" r="1.05"/><circle cx="238.47" cy="413.55" r="1.05"/><circle cx="238.63" cy="413.94" r="1.05"/><circle cx="238.75" cy="414.36" r="1.05"/><circle cx="239.04" cy="415.55" r="1.05"/><circle cx="239.24" cy="415.87" r="1.05"/><circle cx="239.46" cy="416.84" r="1.05"/><circle cx="239.63" cy="417.22" r="1.05"/><circle cx="240.07" cy="417.67" r="1.05"/><circle cx="240.61" cy="418.23" r="1.05"/><circle cx="241.66" cy="419.01" r="1.05"/><circle cx="242.56" cy="418.98" r="1.05"/></g>
<path d="M48.55 429.30v2.6M93.87 429.30v2.6M139.19 429.30v2.6M184.51 429.30v2.6M229.83 429.30v2.6M38.55 268.00h-2.6M38.55 289.62h-2.6M38.55 311.23h-2.6M38.55 332.85h-2.6M38.55 354.46h-2.6M38.55 376.07h-2.6M38.55 397.69h-2.6M38.55 419.30h-2.6" stroke="#2a2a2a" stroke-width="1" fill="none"/>
<rect x="38.55" y="257.45" width="213.90" height="171.85" fill="none" stroke="#484848" stroke-width="0.9"/>
<g font-family="Liberation Serif, serif" font-size="7.9" fill="#333" stroke="#333" stroke-width="0.16" letter-spacing="0.2">
<text transform="translate(48.35 440.10) rotate(0.05)" text-anchor="middle">0.0</text>
<text transform="translate(93.67 440.10) rotate(0.05)" text-anchor="middle">0.2</text>
<text transform="translate(138.99 440.10) rotate(0.05)" text-anchor="middle">0.4</text>
<text transform="translate(184.31 440.10) rotate(0.05)" text-anchor="middle">0.6</text>
<text transform="translate(229.63 440.10) rotate(0.05)" text-anchor="middle">0.8</text>
<text transform="translate(33.75 271.10) rotate(0.05)" text-anchor="end">1.00</text>
<text transform="translate(33.75 292.72) rotate(0.05)" text-anchor="end">0.75</text>
<text transform="translate(33.75 314.33) rotate(0.05)" text-anchor="end">0.50</text>
<text transform="translate(33.75 335.95) rotate(0.05)" text-anchor="end">0.25</text>
<text transform="translate(33.75 357.56) rotate(0.05)" text-anchor="end">0.00</text>
<text transform="translate(33.75 379.18) rotate(0.05)" text-anchor="end">−0.25</text>
<text transform="translate(33.75 400.79) rotate(0.05)" text-anchor="end">−0.50</text>
<text transform="translate(33.75 422.40) rotate(0.05)" text-anchor="end">−0.75</text>
</g>
<g font-family="Liberation Serif, serif" font-size="7.3" fill="#2a2a2a" stroke="#2a2a2a" stroke-width="0.12">
<text transform="translate(145.50 450.60) rotate(0.05)" text-anchor="middle">F1</text>
<text transform="translate(10.35 343.68) rotate(-89.95)" text-anchor="middle">F2</text>
</g>
<rect x="177.35" y="261.45" width="72.0" height="25.0" rx="1.4" fill="#fff" fill-opacity="0.88" stroke="#ccc" stroke-opacity="0.8" stroke-width="0.7"/>
<circle cx="187.95" cy="268.25" r="1.15" fill="#1f77b4"/>
<circle cx="187.95" cy="280.05" r="1.15" fill="#ff0000"/>
<g font-family="Liberation Serif, serif" font-size="8" fill="#222" stroke="#222" stroke-width="0.18">
<text transform="translate(201.05 270.25) rotate(0.05) scale(1.125 1)" text-anchor="start">Pareto Front</text>
<text transform="translate(201.05 282.05) rotate(0.05) scale(1.075 1)" text-anchor="start">Solution</text>
</g>
<text transform="translate(128.40 478.00) rotate(0.05)" text-anchor="middle" font-family="Liberation Serif, serif" font-weight="bold" font-size="14.3" fill="#1c1c1c">(c)</text>
</g>
<g id="plot-d">
<path d="M337.20 258V429.30M382.64 258V429.30M428.08 258V429.30M473.52 258V429.30M518.96 258V429.30M328 265.50H540.90M328 287.48H540.90M328 309.45H540.90M328 331.43H540.90M328 353.40H540.90M328 375.38H540.90M328 397.35H540.90M328 419.33H540.90" stroke="#e2e2e2" stroke-width="0.9" fill="none"/>
<path d="M337.20 258V429.30M382.64 258V429.30M428.08 258V429.30M473.52 258V429.30M518.96 258V429.30M328 265.50H540.90M328 287.48H540.90M328 309.45H540.90M328 331.43H540.90M328 353.40H540.90M328 375.38H540.90M328 397.35H540.90M328 419.33H540.90" stroke="#c4c4c4" stroke-width="0.55" stroke-dasharray="1 1" fill="none"/>
<polyline points="337.20,265.50 337.68,269.57 338.17,271.28 338.65,272.64 339.13,273.81 339.62,274.87 340.10,275.87 340.58,276.82 341.07,277.73 341.55,278.62 342.04,279.48 342.52,280.33 343.00,281.16 343.49,281.98 343.97,282.78 344.45,283.57 344.94,284.35 345.42,285.10 345.90,285.85 346.39,286.57 346.87,287.27 347.35,287.96 347.84,288.62 348.32,289.25 348.80,289.85 349.29,290.43 349.77,290.97 350.26,291.48 350.74,291.96 351.22,292.40 351.71,292.80 352.19,293.16 352.67,293.48 353.16,293.76 353.64,294.00 354.12,294.19 354.61,294.34 355.09,294.45 355.57,294.52 356.06,294.54" fill="none" stroke="#1f77b4" stroke-width="2.8" stroke-linecap="round" stroke-linejoin="round"/>
<polyline points="378.60,294.54 379.04,295.50 379.48,296.50 379.92,297.55 380.36,298.64 380.80,299.77 381.24,300.93 381.68,302.12 382.12,303.34 382.56,304.59 383.00,305.85 383.44,307.14 383.88,308.43 384.32,309.74 384.76,311.04 385.20,312.35 385.64,313.65 386.08,314.94 386.52,316.22 386.96,317.47 387.40,318.71 387.84,319.91 388.28,321.08 388.72,322.22 389.16,323.31 389.60,324.36 390.04,325.35 390.48,326.29 390.92,327.17 391.36,328.00 391.80,328.75 392.24,329.44 392.68,330.05 393.12,330.59 393.56,331.05 394.00,331.43 394.44,331.73 394.88,331.94 395.32,332.07 395.76,332.11" fill="none" stroke="#1f77b4" stroke-width="2.8" stroke-linecap="round" stroke-linejoin="round"/>
<polyline points="430.20,332.11 430.46,333.45 430.72,334.79 430.97,336.11 431.23,337.42 431.49,338.72 431.75,340.00 432.01,341.27 432.27,342.51 432.53,343.74 432.79,344.95 433.05,346.13 433.31,347.28 433.57,348.42 433.83,349.52 434.09,350.59 434.35,351.63 434.61,352.64 434.87,353.62 435.13,354.56 435.39,355.47 435.65,356.33 435.91,357.16 436.17,357.95 436.43,358.70 436.69,359.40 436.95,360.06 437.21,360.68 437.47,361.25 437.73,361.77 437.99,362.25 438.24,362.68 438.50,363.06 438.76,363.39 439.02,363.67 439.28,363.91 439.54,364.09 439.80,364.22 440.06,364.29 440.32,364.32" fill="none" stroke="#1f77b4" stroke-width="2.8" stroke-linecap="round" stroke-linejoin="round"/>
<polyline points="477.70,364.32 477.90,365.65 478.10,366.96 478.30,368.26 478.49,369.52 478.69,370.77 478.89,371.99 479.09,373.19 479.29,374.36 479.49,375.51 479.69,376.63 479.89,377.71 480.08,378.77 480.28,379.80 480.48,380.80 480.68,381.77 480.88,382.70 481.08,383.60 481.28,384.46 481.48,385.29 481.67,386.09 481.87,386.85 482.07,387.57 482.27,388.25 482.47,388.90 482.67,389.50 482.87,390.07 483.07,390.60 483.26,391.08 483.46,391.53 483.66,391.94 483.86,392.30 484.06,392.62 484.26,392.90 484.46,393.14 484.66,393.33 484.85,393.49 485.05,393.59 485.25,393.66 485.45,393.68" fill="none" stroke="#1f77b4" stroke-width="2.8" stroke-linecap="round" stroke-linejoin="round"/>
<polyline points="524.26,393.68 524.43,394.98 524.59,396.26 524.76,397.51 524.93,398.74 525.09,399.94 525.26,401.12 525.42,402.26 525.59,403.38 525.76,404.47 525.92,405.53 526.09,406.56 526.25,407.56 526.42,408.53 526.59,409.47 526.75,410.37 526.92,411.25 527.08,412.09 527.25,412.89 527.42,413.66 527.58,414.40 527.75,415.10 527.91,415.77 528.08,416.40 528.25,417.00 528.41,417.56 528.58,418.08 528.74,418.56 528.91,419.01 529.08,419.42 529.24,419.79 529.41,420.12 529.57,420.41 529.74,420.67 529.91,420.89 530.07,421.06 530.24,421.20 530.40,421.30 530.57,421.36 530.74,421.38" fill="none" stroke="#1f77b4" stroke-width="2.8" stroke-linecap="round" stroke-linejoin="round"/>
<polyline points="337.35,265.25 337.83,269.32 338.32,271.03 338.80,272.39 339.28,273.56 339.77,274.62 340.25,275.62 340.73,276.57 341.22,277.48 341.70,278.37 342.19,279.23 342.67,280.08 343.15,280.91 343.64,281.73 344.12,282.53 344.60,283.32 345.09,284.10 345.57,284.85 346.05,285.60 346.54,286.32 347.02,287.02 347.50,287.71 347.99,288.37 348.47,289.00 348.95,289.60 349.44,290.18 349.92,290.72 350.41,291.23 350.89,291.71 351.37,292.15 351.86,292.55 352.34,292.91 352.82,293.23 353.31,293.51 353.79,293.75 354.27,293.94 354.76,294.09 355.24,294.20 355.72,294.27 356.21,294.29" fill="none" stroke="#ff0000" stroke-width="2.35" stroke-linecap="round" stroke-linejoin="round"/>
<polyline points="378.75,294.29 379.19,295.25 379.63,296.25 380.07,297.30 380.51,298.39 380.95,299.52 381.39,300.68 381.83,301.87 382.27,303.09 382.71,304.34 383.15,305.60 383.59,306.89 384.03,308.18 384.47,309.49 384.91,310.79 385.35,312.10 385.79,313.40 386.23,314.69 386.67,315.97 387.11,317.22 387.55,318.46 387.99,319.66 388.43,320.83 388.87,321.97 389.31,323.06 389.75,324.11 390.19,325.10 390.63,326.04 391.07,326.92 391.51,327.75 391.95,328.50 392.39,329.19 392.83,329.80 393.27,330.34 393.71,330.80 394.15,331.18 394.59,331.48 395.03,331.69 395.47,331.82 395.91,331.86" fill="none" stroke="#ff0000" stroke-width="2.35" stroke-linecap="round" stroke-linejoin="round"/>
<polyline points="430.35,331.86 430.61,333.20 430.87,334.54 431.12,335.86 431.38,337.17 431.64,338.47 431.90,339.75 432.16,341.02 432.42,342.26 432.68,343.49 432.94,344.70 433.20,345.88 433.46,347.03 433.72,348.17 433.98,349.27 434.24,350.34 434.50,351.38 434.76,352.39 435.02,353.37 435.28,354.31 435.54,355.22 435.80,356.08 436.06,356.91 436.32,357.70 436.58,358.45 436.84,359.15 437.10,359.81 437.36,360.43 437.62,361.00 437.88,361.52 438.14,362.00 438.39,362.43 438.65,362.81 438.91,363.14 439.17,363.42 439.43,363.66 439.69,363.84 439.95,363.97 440.21,364.04 440.47,364.07" fill="none" stroke="#ff0000" stroke-width="2.35" stroke-linecap="round" stroke-linejoin="round"/>
<polyline points="477.85,364.07 478.05,365.40 478.25,366.71 478.45,368.01 478.64,369.27 478.84,370.52 479.04,371.74 479.24,372.94 479.44,374.11 479.64,375.26 479.84,376.38 480.04,377.46 480.23,378.52 480.43,379.55 480.63,380.55 480.83,381.52 481.03,382.45 481.23,383.35 481.43,384.21 481.63,385.04 481.82,385.84 482.02,386.60 482.22,387.32 482.42,388.00 482.62,388.65 482.82,389.25 483.02,389.82 483.22,390.35 483.41,390.83 483.61,391.28 483.81,391.69 484.01,392.05 484.21,392.37 484.41,392.65 484.61,392.89 484.81,393.08 485.00,393.24 485.20,393.34 485.40,393.41 485.60,393.43" fill="none" stroke="#ff0000" stroke-width="2.35" stroke-linecap="round" stroke-linejoin="round"/>
<polyline points="524.41,393.43 524.58,394.73 524.74,396.01 524.91,397.26 525.08,398.49 525.24,399.69 525.41,400.87 525.57,402.01 525.74,403.13 525.91,404.22 526.07,405.28 526.24,406.31 526.40,407.31 526.57,408.28 526.74,409.22 526.90,410.12 527.07,411.00 527.23,411.84 527.40,412.64 527.57,413.41 527.73,414.15 527.90,414.85 528.06,415.52 528.23,416.15 528.40,416.75 528.56,417.31 528.73,417.83 528.89,418.31 529.06,418.76 529.23,419.17 529.39,419.54 529.56,419.87 529.72,420.16 529.89,420.42 530.06,420.64 530.22,420.81 530.39,420.95 530.55,421.05 530.72,421.11 530.89,421.13" fill="none" stroke="#ff0000" stroke-width="2.35" stroke-linecap="round" stroke-linejoin="round"/>
<path d="M337.20 429.30v2.6M382.64 429.30v2.6M428.08 429.30v2.6M473.52 429.30v2.6M518.96 429.30v2.6M327.50 265.50h-2.6M327.50 287.48h-2.6M327.50 309.45h-2.6M327.50 331.43h-2.6M327.50 353.40h-2.6M327.50 375.38h-2.6M327.50 397.35h-2.6M327.50 419.33h-2.6" stroke="#2a2a2a" stroke-width="1" fill="none"/>
<rect x="327.50" y="257.45" width="213.40" height="171.85" fill="none" stroke="#484848" stroke-width="0.9"/>
<g font-family="Liberation Serif, serif" font-size="7.9" fill="#333" stroke="#333" stroke-width="0.16" letter-spacing="0.2">
<text transform="translate(337.00 440.10) rotate(0.05)" text-anchor="middle">0.0</text>
<text transform="translate(382.44 440.10) rotate(0.05)" text-anchor="middle">0.2</text>
<text transform="translate(427.88 440.10) rotate(0.05)" text-anchor="middle">0.4</text>
<text transform="translate(473.32 440.10) rotate(0.05)" text-anchor="middle">0.6</text>
<text transform="translate(518.76 440.10) rotate(0.05)" text-anchor="middle">0.8</text>
<text transform="translate(322.70 268.60) rotate(0.05)" text-anchor="end">1.00</text>
<text transform="translate(322.70 290.58) rotate(0.05)" text-anchor="end">0.75</text>
<text transform="translate(322.70 312.55) rotate(0.05)" text-anchor="end">0.50</text>
<text transform="translate(322.70 334.53) rotate(0.05)" text-anchor="end">0.25</text>
<text transform="translate(322.70 356.50) rotate(0.05)" text-anchor="end">0.00</text>
<text transform="translate(322.70 378.48) rotate(0.05)" text-anchor="end">−0.25</text>
<text transform="translate(322.70 400.45) rotate(0.05)" text-anchor="end">−0.50</text>
<text transform="translate(322.70 422.43) rotate(0.05)" text-anchor="end">−0.75</text>
</g>
<g font-family="Liberation Serif, serif" font-size="7.3" fill="#2a2a2a" stroke="#2a2a2a" stroke-width="0.12">
<text transform="translate(434.20 450.60) rotate(0.05)" text-anchor="middle">F1</text>
<text transform="translate(298.50 343.68) rotate(-89.95)" text-anchor="middle">F2</text>
</g>
<rect x="466.40" y="261.45" width="71.4" height="25.0" rx="1.4" fill="#fff" fill-opacity="0.88" stroke="#ccc" stroke-opacity="0.8" stroke-width="0.7"/>
<circle cx="476.40" cy="268.25" r="1.15" fill="#1f77b4"/>
<circle cx="476.40" cy="280.05" r="1.15" fill="#ff0000"/>
<g font-family="Liberation Serif, serif" font-size="8" fill="#222" stroke="#222" stroke-width="0.18">
<text transform="translate(489.50 270.25) rotate(0.05) scale(1.125 1)" text-anchor="start">Pareto Front</text>
<text transform="translate(489.50 282.05) rotate(0.05) scale(1.075 1)" text-anchor="start">Solution</text>
</g>
<text transform="translate(416.80 478.00) rotate(0.05)" text-anchor="middle" font-family="Liberation Serif, serif" font-weight="bold" font-size="14.3" fill="#1c1c1c">(d)</text>
</g>
</svg>
</body></html>
